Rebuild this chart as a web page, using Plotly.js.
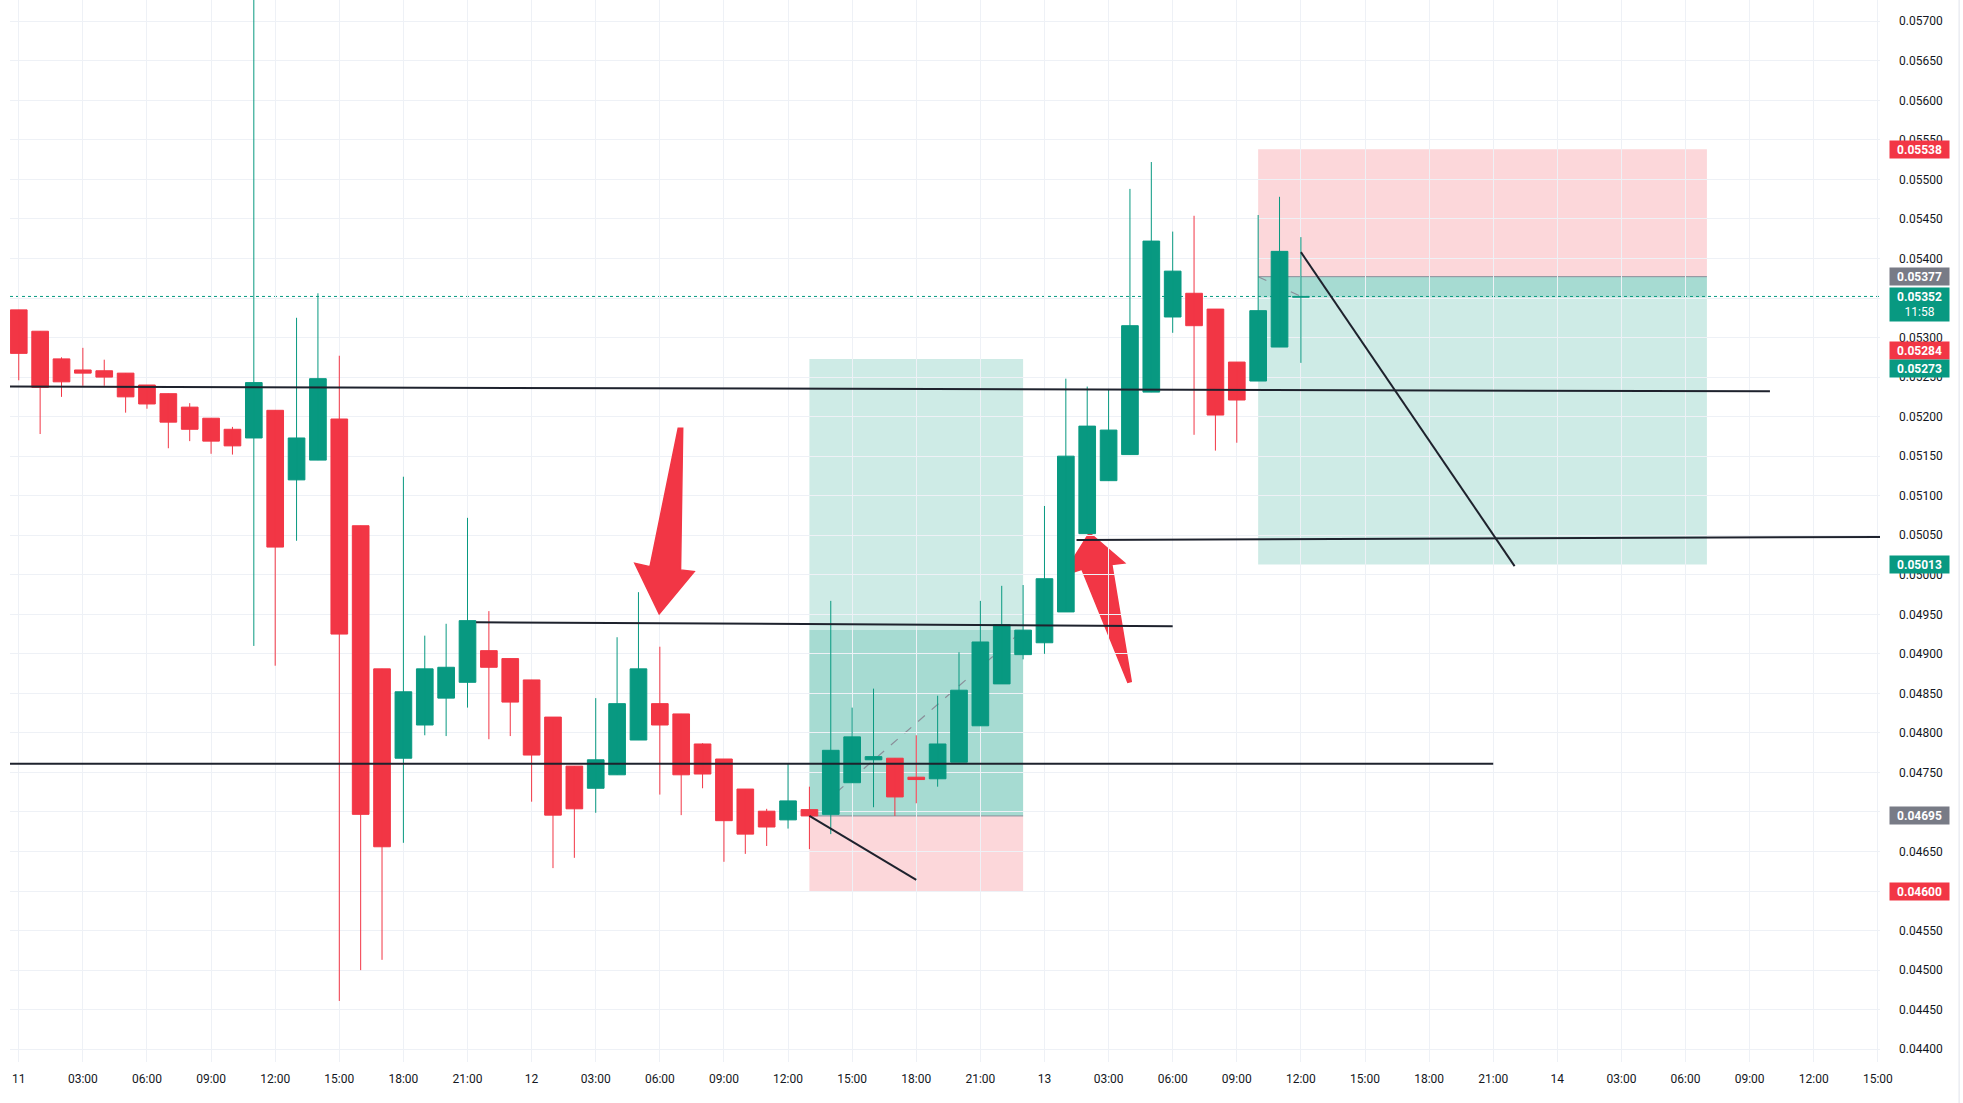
<!DOCTYPE html>
<html><head><meta charset="utf-8">
<script src="https://cdn.plot.ly/plotly-3.0.1.min.js"></script>
<style>html,body{margin:0;padding:0;background:#fff;overflow:hidden}#chart{width:1963px;height:1103px}</style>
</head><body><div id="chart"></div>
<script>
// Hourly candles starting at day "11" 00:00 (x = hours since then)
const openP  = [0.05335,0.05308,0.05273,0.05259,0.05258,0.05255,0.05240,0.05229,0.05212,0.05198,0.05184,0.05173,0.05208,0.05120,0.05145,0.05197,0.05062,0.04881,0.04768,0.04810,0.04844,0.04864,0.04904,0.04894,0.04867,0.04820,0.04758,0.04730,0.04747,0.04791,0.04837,0.04824,0.04786,0.04767,0.04729,0.04701,0.04690,0.04703,0.04697,0.04737,0.04766,0.04768,0.04744,0.04742,0.04763,0.04809,0.04862,0.04899,0.04914,0.04953,0.05052,0.05119,0.05152,0.05231,0.05326,0.05356,0.05336,0.05269,0.05245,0.05288,0.05351];
const highP  = [0.05335,0.05308,0.05275,0.05287,0.05272,0.05255,0.05240,0.05229,0.05217,0.05198,0.05187,0.05750,0.05208,0.05325,0.05356,0.05277,0.05062,0.04881,0.05124,0.04923,0.04938,0.05072,0.04954,0.04894,0.04867,0.04820,0.04758,0.04844,0.04921,0.04978,0.04909,0.04824,0.04787,0.04767,0.04729,0.04704,0.04761,0.04732,0.04967,0.04832,0.04856,0.04768,0.04797,0.04847,0.04902,0.04967,0.04986,0.04987,0.05087,0.05248,0.05238,0.05235,0.05488,0.05522,0.05434,0.05454,0.05336,0.05269,0.05455,0.05478,0.05427];
const lowP   = [0.05246,0.05178,0.05225,0.05239,0.05239,0.05205,0.05210,0.05160,0.05169,0.05153,0.05152,0.04910,0.04885,0.05043,0.05145,0.04461,0.04500,0.04513,0.04661,0.04797,0.04796,0.04832,0.04792,0.04796,0.04713,0.04629,0.04642,0.04699,0.04747,0.04791,0.04722,0.04696,0.04730,0.04637,0.04647,0.04657,0.04679,0.04653,0.04672,0.04737,0.04706,0.04695,0.04711,0.04732,0.04763,0.04809,0.04862,0.04893,0.04900,0.04953,0.05052,0.05119,0.05152,0.05231,0.05306,0.05177,0.05157,0.05167,0.05245,0.05288,0.05268];
const closeP = [0.05280,0.05237,0.05244,0.05255,0.05250,0.05225,0.05216,0.05193,0.05184,0.05169,0.05163,0.05243,0.05035,0.05173,0.05248,0.04925,0.04697,0.04656,0.04852,0.04881,0.04883,0.04942,0.04883,0.04839,0.04772,0.04696,0.04704,0.04766,0.04837,0.04881,0.04810,0.04747,0.04748,0.04689,0.04672,0.04681,0.04714,0.04695,0.04778,0.04795,0.04770,0.04719,0.04741,0.04786,0.04854,0.04915,0.04937,0.04930,0.04995,0.05150,0.05188,0.05183,0.05315,0.05422,0.05384,0.05315,0.05202,0.05221,0.05334,0.05409,0.05352];

// x-axis tick labels every 3 hours
const tickLabels = ["11","03:00","06:00","09:00","12:00","15:00","18:00","21:00",
                    "12","03:00","06:00","09:00","12:00","15:00","18:00","21:00",
                    "13","03:00","06:00","09:00","12:00","15:00","18:00","21:00",
                    "14","03:00","06:00","09:00","12:00","15:00"];

// position tools: [startHour, endHour, entry, stop, target, lastClose]
const longPos  = {x0:37, x1:47, entry:0.04695, stop:0.04600, target:0.05273, last:0.04930};
const shortPos = {x0:58, x1:79, entry:0.05377, stop:0.05538, target:0.05013, last:0.05352};

// price-scale labels
const priceLabels = [
  {v:0.05538, txt:"0.05538", c:"#F23645", s:0},
  {v:0.05377, txt:"0.05377", c:"#787B86", s:0},
  {v:0.05284, txt:"0.05284", c:"#F23645", s:0},
  {v:0.05273, txt:"0.05273", c:"#089981", s:-10},
  {v:0.05013, txt:"0.05013", c:"#089981", s:0},
  {v:0.04695, txt:"0.04695", c:"#787B86", s:0},
  {v:0.04600, txt:"0.04600", c:"#F23645", s:0}
];
const lastPrice = 0.05352, countdown = "11:58";

const UP = "#089981", DN = "#F23645";
const n = openP.length;
const xs = Array.from({length:n}, (_, i) => i);
const tickVals = tickLabels.map((_, i) => i * 3);

const base = [], hgt = [], cols = [];
const wUp = {x:[], y:[]}, wDn = {x:[], y:[]};
for (let i = 0; i < n; i++) {
  const up = closeP[i] >= openP[i];
  base.push(Math.min(openP[i], closeP[i]));
  hgt.push(Math.abs(closeP[i] - openP[i]));
  cols.push(up ? UP : DN);
  const w = up ? wUp : wDn;
  w.x.push(xs[i], xs[i], null);
  w.y.push(lowP[i], highP[i], null);
}

const traces = [
  {type:"scatter", mode:"lines", x:wUp.x, y:wUp.y, line:{color:UP, width:1}, hoverinfo:"skip", showlegend:false},
  {type:"scatter", mode:"lines", x:wDn.x, y:wDn.y, line:{color:DN, width:1}, hoverinfo:"skip", showlegend:false},
  {type:"bar", x:xs, y:hgt, base:base, width:0.78, marker:{color:cols, line:{color:cols, width:1}}, hoverinfo:"skip", showlegend:false}
];

const LINE = {color:"#1e222d", width:2};
const shapes = [];
function posBox(p) {
  const g = "rgba(8,153,129,0.20)", r = "rgba(242,54,69,0.20)";
  shapes.push({type:"rect", layer:"below", xref:"x", yref:"y", x0:p.x0, x1:p.x1, y0:p.entry, y1:p.target, fillcolor:g, line:{width:0}});
  shapes.push({type:"rect", layer:"below", xref:"x", yref:"y", x0:p.x0, x1:p.x1, y0:p.entry, y1:p.stop, fillcolor:r, line:{width:0}});
  shapes.push({type:"rect", layer:"below", xref:"x", yref:"y", x0:p.x0, x1:p.x1, y0:p.entry, y1:p.last, fillcolor:g, line:{width:0}});
  shapes.push({type:"line", layer:"below", xref:"x", yref:"y", x0:p.x0, x1:p.x1, y0:p.entry, y1:p.entry, line:{color:"#8a8e99", width:1}});
}
posBox(longPos);
posBox(shortPos);
// dashed path of price inside the positions
shapes.push({type:"line", layer:"below", xref:"x", yref:"y", x0:longPos.x0, y0:longPos.entry, x1:longPos.x1, y1:longPos.last, line:{color:"#8a8e99", width:1.2, dash:"dash"}});
shapes.push({type:"line", layer:"below", xref:"x", yref:"y", x0:shortPos.x0, y0:shortPos.entry, x1:60, y1:shortPos.last, line:{color:"#8a8e99", width:1.2, dash:"dash"}});
// current price dotted line
shapes.push({type:"line", layer:"below", xref:"paper", yref:"y", x0:0, x1:1, y0:lastPrice, y1:lastPrice, line:{color:UP, width:1, dash:"dot"}});
// trend / level lines
const lines = [
  [-0.41, 0.05238, 81.95, 0.05232],
  [21.4, 0.04940, 54.0, 0.04935],
  [-0.41, 0.04761, 69.0, 0.04761],
  [49.5, 0.05044, 88.0, 0.05048],
  [37.0, 0.04695, 42.0, 0.04614],
  [60.0, 0.05408, 70.0, 0.05011]
];
lines.forEach(l => shapes.push({type:"line", layer:"above", xref:"x", yref:"y", x0:l[0], y0:l[1], x1:l[2], y1:l[3], line:LINE}));
// red arrows
function poly(pts){ return "M" + pts.map(p => p[0] + "," + p[1]).join(" L") + " Z"; }
const arrowDown = [[30.86,0.051853],[31.07,0.051853],[30.97,0.050061],[31.61,0.05004],[29.97,0.049504],[28.83,0.050145],[29.54,0.050102]];
const arrowUp = [[50.10,0.050530],[51.75,0.050150],[51.15,0.050130],[52.06,0.048652],[51.90,0.048640],[49.75,0.050070],[48.85,0.049990]];
shapes.push({type:"path", layer:"above", xref:"x", yref:"y", path:poly(arrowDown), fillcolor:DN, line:{color:DN, width:1.5}});
shapes.push({type:"path", layer:"below", xref:"x", yref:"y", path:poly(arrowUp), fillcolor:DN, line:{color:DN, width:1.5}});
// frame of the chart pane
shapes.push({type:"line", layer:"above", xref:"paper", yref:"paper", x0:1.0423, x1:1.0423, y0:-0.052, y1:1, line:{color:"#e0e3eb", width:1}});
shapes.push({type:"line", layer:"above", xref:"paper", yref:"paper", x0:-0.005, x1:1.0423, y0:-0.052, y1:-0.052, line:{color:"#e0e3eb", width:1}});

const annotations = priceLabels.map(p => ({
  xref:"paper", yref:"y", x:1.0211, y:p.v, xanchor:"center", yanchor:"middle", yshift:p.s,
  text:"<b>" + p.txt + "</b>", showarrow:false, bgcolor:p.c, width:55, height:13, borderpad:2,
  font:{family:"Roboto, Arial, sans-serif", size:12, color:"#ffffff"}
}));
annotations.push({
  xref:"paper", yref:"y", x:1.0211, y:lastPrice, xanchor:"center", yanchor:"top", yshift:9,
  text:"<b>" + lastPrice.toFixed(5) + "</b><br>" + countdown, showarrow:false, bgcolor:UP, width:55, height:29, borderpad:2,
  font:{family:"Roboto, Arial, sans-serif", size:12, color:"#ffffff"}
});

const layout = {
  width:1963, height:1103,
  margin:{l:10, r:83, t:0, b:41},
  paper_bgcolor:"#ffffff", plot_bgcolor:"#ffffff",
  showlegend:false, hovermode:false, bargap:0,
  font:{family:"Roboto, Arial, sans-serif", size:12, color:"#131722"},
  xaxis:{range:[-0.41, 87.1], tickmode:"array", tickvals:tickVals, ticktext:tickLabels,
         showgrid:true, gridcolor:"#eef1f6", gridwidth:1, zeroline:false, showline:false,
         ticks:"", ticklabelstandoff:8, tickfont:{size:12, color:"#131722"}, fixedrange:true},
  yaxis:{range:[0.043838, 0.057269], side:"right", tick0:0.044, dtick:0.0005, tickformat:".5f",
         showgrid:true, gridcolor:"#eef1f6", gridwidth:1, zeroline:false, showline:false,
         ticks:"", ticklabelstandoff:18, tickfont:{size:12, color:"#131722"}, fixedrange:true},
  shapes:shapes, annotations:annotations
};

Plotly.newPlot("chart", traces, layout, {staticPlot:true, displayModeBar:false});
</script>
</body></html>
